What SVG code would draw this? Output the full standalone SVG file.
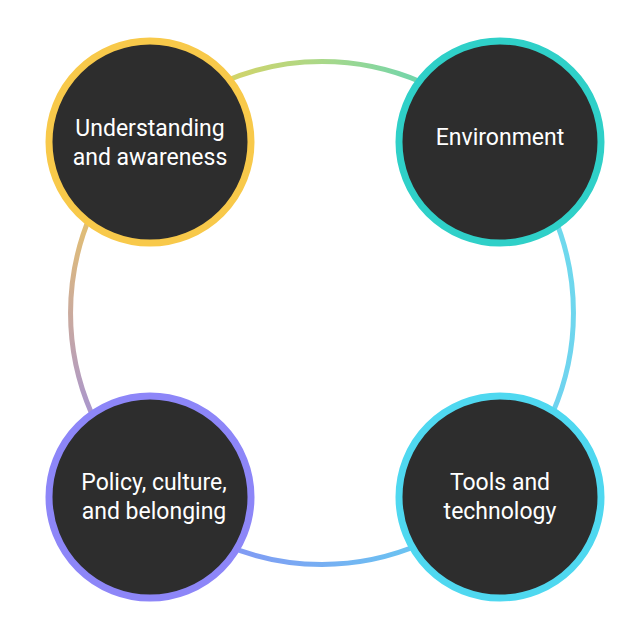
<svg xmlns="http://www.w3.org/2000/svg" width="640" height="640" viewBox="0 0 640 640">
<style>
.n{fill:#2d2d2d;stroke-width:7}
.t{font-family:Roboto,"Liberation Sans",sans-serif;font-size:23px;fill:#fff;text-anchor:middle}
.r{fill:none;stroke-width:5}
</style>
<defs>
<linearGradient id="gt" x1="150" y1="0" x2="500" y2="0" gradientUnits="userSpaceOnUse"><stop offset="0" stop-color="#f6d04d"/><stop offset="0.5" stop-color="#a8d88a"/><stop offset="1" stop-color="#3fd2c8"/></linearGradient>
<linearGradient id="gl" x1="0" y1="142" x2="0" y2="497" gradientUnits="userSpaceOnUse"><stop offset="0" stop-color="#f6d04d"/><stop offset="0.5" stop-color="#c9a9a0"/><stop offset="1" stop-color="#8d86f5"/></linearGradient>
<linearGradient id="gr" x1="0" y1="142" x2="0" y2="497" gradientUnits="userSpaceOnUse"><stop offset="0" stop-color="#6edcec"/><stop offset="1" stop-color="#6fd0f0"/></linearGradient>
<linearGradient id="gb" x1="150" y1="0" x2="500" y2="0" gradientUnits="userSpaceOnUse"><stop offset="0" stop-color="#8d86f5"/><stop offset="1" stop-color="#5ed8f0"/></linearGradient>
</defs>
<g id="connectors">
<path class="r" stroke="url(#gt)" d="M145 135 A250 250 0 0 1 499 135"/>
<path class="r" stroke="url(#gr)" d="M499 135 A250 250 0 0 1 499 491"/>
<path class="r" stroke="url(#gb)" d="M499 491 A250 250 0 0 1 145 491"/>
<path class="r" stroke="url(#gl)" d="M145 491 A250 250 0 0 1 145 135"/>
</g>
<g id="n1"><circle class="n" cx="150" cy="142" r="101" stroke="#f8c94a"/><text class="t" x="150" y="136">Understanding</text><text class="t" x="150" y="165">and awareness</text></g>
<g id="n2"><circle class="n" cx="500" cy="142" r="101" stroke="#2fd0c8"/><text class="t" x="500" y="145">Environment</text></g>
<g id="n3"><circle class="n" cx="150" cy="497" r="101" stroke="#8d86f8"/><text class="t" x="154" y="490">Policy, culture,</text><text class="t" x="154" y="519">and belonging</text></g>
<g id="n4"><circle class="n" cx="500" cy="497" r="101" stroke="#4fd8f0"/><text class="t" x="500" y="490">Tools and</text><text class="t" x="500" y="519">technology</text></g>
</svg>
